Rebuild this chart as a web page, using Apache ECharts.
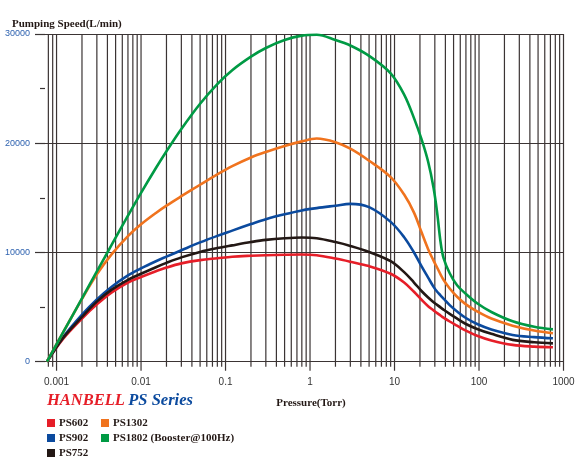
<!DOCTYPE html>
<html>
<head>
<meta charset="utf-8">
<script src="https://cdn.jsdelivr.net/npm/echarts@6/dist/echarts.min.js"></script>
<style>
  html, body { margin: 0; padding: 0; background: #fff; }
  #chart { width: 579px; height: 463px; }
</style>
</head>
<body>
<div id="chart"></div>
<script>
const pressure = [0.00077, 0.0012, 0.002, 0.003, 0.0045, 0.007, 0.01, 0.015, 0.02, 0.03, 0.05, 0.08, 0.12, 0.2, 0.3, 0.5, 0.8, 1.2, 2, 3, 5, 9, 13, 17, 21, 25, 29, 32, 35, 38, 45, 55, 70, 95, 140, 250, 450, 750]

// pumping speed (L/min)
const ps602  = [0, 2100, 3950, 5250, 6350, 7250, 7750, 8280, 8620, 9000, 9300, 9470, 9610, 9700, 9750, 9790, 9810, 9740, 9440, 9150, 8750, 8050, 7250, 6400, 5650, 5080, 4700, 4450, 4230, 4030, 3680, 3300, 2850, 2380, 1950, 1540, 1380, 1320]
const ps902  = [0, 2250, 4300, 5700, 6870, 7900, 8550, 9200, 9620, 10200, 10920, 11520, 12000, 12600, 13050, 13500, 13850, 14060, 14280, 14450, 14150, 12800, 11400, 10000, 8700, 7700, 6850, 6400, 6080, 5780, 5180, 4600, 4000, 3450, 2950, 2450, 2250, 2140]
const ps752  = [0, 2200, 4100, 5500, 6600, 7500, 8050, 8650, 9050, 9550, 10050, 10400, 10650, 10950, 11150, 11300, 11370, 11300, 10950, 10600, 10050, 9200, 8200, 7250, 6450, 5880, 5450, 5200, 4970, 4770, 4380, 3950, 3450, 3000, 2550, 2000, 1780, 1680]
const ps1302 = [0, 2700, 5750, 8000, 9850, 11500, 12580, 13620, 14290, 15150, 16200, 17150, 17900, 18700, 19200, 19750, 20170, 20430, 20100, 19500, 18400, 16900, 15300, 13650, 11800, 10300, 9250, 8600, 8000, 7500, 6700, 5950, 5250, 4600, 3950, 3300, 2850, 2600]
const ps1802 = [0, 2700, 5800, 8260, 10720, 13370, 15460, 17730, 19270, 21310, 23620, 25420, 26690, 27930, 28720, 29450, 29850, 29930, 29450, 28950, 28000, 26400, 24450, 22300, 20300, 18300, 15900, 13600, 11000, 9500, 8100, 7000, 6200, 5350, 4550, 3700, 3200, 2960]

const seriesNames = ['PS602', 'PS902', 'PS752', 'PS1302', 'PS1802 (Booster@100Hz)']
const seriesColors = ['#e61e28', '#0b4a9e', '#231815', '#f0731e', '#009a44']
const xTickLabels = ['0.001', '0.01', '0.1', '1', '10', '100', '1000']
const yTicks = [0, 10000, 20000, 30000]

// log grid lines 1..9 x 10^k
const gridLines = []
for (let k = -4; k <= 3; k++) {
    for (let m = 1; m <= 9; m++) {
        const v = +(m * Math.pow(10, k)).toPrecision(3)
        if (v >= 0.0008 && v <= 1000) gridLines.push([v, 0, m === 1 ? 1 : 0])
    }
}

const gridColor = '#3b3434'
const serif = '"Liberation Serif", "DejaVu Serif", serif'

const curves = [ps602, ps902, ps752, ps1302, ps1802].map((vals, i) => ({
    name: seriesNames[i],
    type: 'line',
    smooth: 0.35,
    symbol: 'none',
    z: 5,
    lineStyle: { width: 2.6, color: seriesColors[i] },
    itemStyle: { color: seriesColors[i] },
    data: pressure.map((p, j) => [p, vals[j]])
}))

const legendText = { fontFamily: serif, fontWeight: 'bold', fontSize: 11, color: '#231815', lineHeight: 12, padding: [0, 0, 0, -1] }

const chart = echarts.init(document.getElementById('chart'))
chart.setOption({
    backgroundColor: '#fff',
    animation: false,
    title: {
        text: 'Pumping Speed(L/min)',
        left: 7,
        top: 14,
        textStyle: { fontFamily: serif, fontWeight: 'bold', fontSize: 11, color: '#231815' }
    },
    grid: { left: 45, right: 15.5, top: 34, bottom: 101.3 },
    xAxis: {
        type: 'log',
        logBase: 10,
        min: 0.00073,
        max: 1000,
        axisLine: { show: true, onZero: false, lineStyle: { color: gridColor, width: 1.2 } },
        axisTick: { show: false },
        splitLine: { show: false },
        axisLabel: {
            showMinLabel: false,
            margin: 16,
            fontSize: 10,
            fontFamily: 'Liberation Sans, Arial, sans-serif',
            color: '#333',
            formatter: v => xTickLabels[Math.round(Math.log10(v)) + 3] || ''
        }
    },
    yAxis: {
        type: 'value',
        min: yTicks[0],
        max: yTicks[yTicks.length - 1],
        interval: 10000,
        axisLine: { show: false },
        axisTick: { show: true, length: 10, lineStyle: { color: gridColor, width: 1.2 } },
        minorTick: { show: true, splitNumber: 2, length: 5, lineStyle: { color: gridColor, width: 1.2 } },
        splitLine: { show: true, lineStyle: { color: gridColor, width: 1.2 } },
        axisLabel: {
            margin: 15,
            fontSize: 9,
            fontFamily: 'Liberation Sans, Arial, sans-serif',
            color: '#2f63b0',
            formatter: v => String(v)
        }
    },
    legend: [
        {
            data: seriesNames.slice(0, 3),
            orient: 'vertical',
            left: 47,
            top: 417,
            icon: 'rect',
            itemWidth: 8,
            itemHeight: 8,
            itemGap: 3,
            padding: 0,
            textStyle: legendText
        },
        {
            data: seriesNames.slice(3),
            orient: 'vertical',
            left: 101,
            top: 417,
            icon: 'rect',
            itemWidth: 8,
            itemHeight: 8,
            itemGap: 3,
            padding: 0,
            textStyle: legendText
        }
    ],
    graphic: [
        {
            type: 'text',
            left: 47,
            top: 392,
            style: {
                text: '{a|HANBELL} {b|PS Series}',
                rich: {
                    a: { fontFamily: serif, fontWeight: 'bold', fontStyle: 'italic', fontSize: 16.5, fill: '#e61e28' },
                    b: { fontFamily: serif, fontWeight: 'bold', fontStyle: 'italic', fontSize: 16.5, fill: '#0b4a9e' }
                }
            }
        },
        {
            type: 'text',
            x: 311,
            y: 403,
            style: {
                text: 'Pressure(Torr)',
                fontFamily: serif,
                fontWeight: 'bold',
                fontSize: 11,
                fill: '#231815',
                align: 'center',
                verticalAlign: 'middle'
            }
        }
    ],
    series: [
        {
            name: 'grid',
            type: 'custom',
            silent: true,
            z: 1,
            clip: false,
            encode: { x: 0, y: 1 },
            data: gridLines,
            renderItem: (params, api) => {
                const top = api.coord([api.value(0), yTicks[yTicks.length - 1]])
                const bot = api.coord([api.value(0), 0])
                return {
                    type: 'line',
                    shape: { x1: top[0], y1: top[1], x2: bot[0], y2: bot[1] + (api.value(2) ? 9 : 5) },
                    style: { stroke: gridColor, lineWidth: 1.2 }
                }
            }
        }
    ].concat(curves)
})
</script>
</body>
</html>
